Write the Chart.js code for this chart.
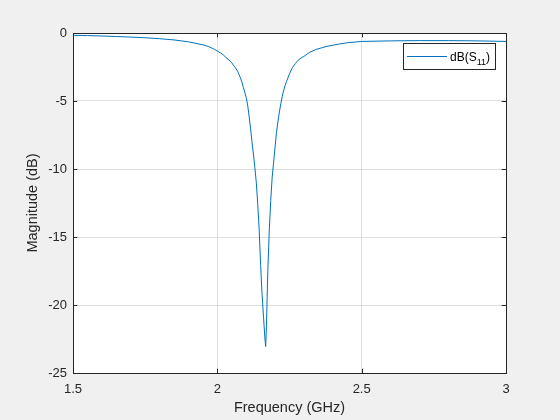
<!DOCTYPE html>
<html>
<head>
<meta charset="utf-8">
<script src="https://cdn.jsdelivr.net/npm/chart.js@4.4.0/dist/chart.umd.min.js"></script>
<style>
  html, body { margin: 0; padding: 0; background: #f0f0f0; }
  canvas { display: block; }
</style>
</head>
<body>
<canvas id="s11Chart" width="560" height="420"></canvas>
<script>
// values
const freqGHz = [1.50, 1.55, 1.60, 1.65, 1.70, 1.75, 1.80, 1.85, 1.90, 1.95,
                 1.97, 1.99, 2.00, 2.01, 2.02, 2.03, 2.04, 2.05, 2.06, 2.07,
                 2.08, 2.085, 2.09, 2.095, 2.10, 2.105, 2.11, 2.115, 2.12, 2.125,
                 2.13, 2.135, 2.14, 2.145, 2.15, 2.155, 2.16, 2.165, 2.1675, 2.17,
                 2.175, 2.18, 2.185, 2.19, 2.195, 2.20, 2.205, 2.21, 2.215, 2.22,
                 2.225, 2.23, 2.235, 2.24, 2.25, 2.26, 2.27, 2.28, 2.29, 2.30,
                 2.32, 2.34, 2.36, 2.38, 2.40, 2.42, 2.45, 2.47, 2.50, 2.60,
                 2.70, 2.80, 2.90, 3.00];
const magDb = [-0.17, -0.19, -0.22, -0.26, -0.30, -0.35, -0.42, -0.51, -0.65, -0.87,
               -1.00, -1.20, -1.33, -1.45, -1.60, -1.80, -1.98, -2.20, -2.48, -2.80,
               -3.30, -3.60, -4.00, -4.35, -4.75, -5.30, -6.10, -7.00, -8.00, -8.90,
               -9.90, -11.0, -12.6, -14.5, -17.1, -19.2, -20.9, -22.5, -23.05, -21.6,
               -17.4, -14.5, -12.3, -10.6, -9.50, -8.40, -7.30, -6.50, -5.80, -5.20,
               -4.65, -4.20, -3.85, -3.55, -3.00, -2.55, -2.25, -2.00, -1.84, -1.72,
               -1.42, -1.22, -1.10, -0.98, -0.90, -0.82, -0.72, -0.68, -0.62, -0.58,
               -0.56, -0.56, -0.58, -0.62];
const xTicks = [1.5, 2, 2.5, 3];
const yTicks = [-25, -20, -15, -10, -5, 0];
const seriesLabel = 'dB(S';
const seriesSub = '11';

const axisColor = '#262626';
const lineColor = '#0072BD';
const fontFamily = '"Liberation Sans", Arial, Helvetica, sans-serif';

// box, inward ticks and the legend drawn on top of the plot area
const matlabAxes = {
    id: 'matlabAxes',
    afterDraw(chart) {
        const { ctx, chartArea: a, scales } = chart;
        const len = 4.3;
        ctx.save();
        ctx.strokeStyle = axisColor;
        ctx.lineWidth = 1;
        ctx.beginPath();
        xTicks.forEach(t => {
            const px = Math.round(scales.x.getPixelForValue(t)) + 0.5;
            ctx.moveTo(px, a.bottom); ctx.lineTo(px, a.bottom - len);
            ctx.moveTo(px, a.top); ctx.lineTo(px, a.top + len);
        });
        yTicks.forEach(t => {
            const py = Math.round(scales.y.getPixelForValue(t)) + 0.5;
            ctx.moveTo(a.left, py); ctx.lineTo(a.left + len, py);
            ctx.moveTo(a.right, py); ctx.lineTo(a.right - len, py);
        });
        ctx.stroke();
        ctx.strokeRect(Math.round(a.left) + 0.5, Math.round(a.top) + 0.5,
                       Math.round(a.right - a.left), Math.round(a.bottom - a.top));

        // legend
        const bx = 403.5, by = 43.5, bw = 92, bh = 26;
        ctx.fillStyle = '#ffffff';
        ctx.fillRect(bx, by, bw, bh);
        ctx.strokeStyle = axisColor;
        ctx.strokeRect(bx, by, bw, bh);
        ctx.strokeStyle = lineColor;
        ctx.beginPath();
        ctx.moveTo(407, 56.5); ctx.lineTo(447, 56.5);
        ctx.stroke();
        ctx.fillStyle = '#000000';
        ctx.textBaseline = 'alphabetic';
        ctx.font = '12px ' + fontFamily;
        let tx = 450;
        ctx.fillText(seriesLabel, tx, 61);
        tx += ctx.measureText(seriesLabel).width;
        ctx.font = '9px ' + fontFamily;
        ctx.fillText(seriesSub, tx, 65);
        tx += ctx.measureText(seriesSub).width;
        ctx.font = '12px ' + fontFamily;
        ctx.fillText(')', tx, 61);
        ctx.restore();
    }
};

const plotBg = {
    id: 'plotBg',
    beforeDraw(chart) {
        const { ctx, chartArea: a } = chart;
        ctx.save();
        ctx.fillStyle = '#f0f0f0';
        ctx.fillRect(0, 0, chart.width, chart.height);
        ctx.fillStyle = '#ffffff';
        ctx.fillRect(a.left, a.top, a.right - a.left, a.bottom - a.top);
        ctx.restore();
    }
};

const ctx = document.getElementById('s11Chart').getContext('2d');
new Chart(ctx, {
    type: 'line',
    data: {
        datasets: [{
            label: 'dB(S11)',
            data: freqGHz.map((f, i) => ({ x: f, y: magDb[i] })),
            borderColor: lineColor,
            borderWidth: 1,
            fill: false,
            pointRadius: 0,
            tension: 0
        }]
    },
    options: {
        responsive: false,
        animation: false,
        layout: { padding: { top: 33, right: 54, bottom: 0, left: 0 } },
        plugins: {
            legend: { display: false },
            tooltip: { enabled: false }
        },
        scales: {
            x: {
                type: 'linear',
                min: 1.5,
                max: 3,
                afterBuildTicks: s => { s.ticks = xTicks.map(v => ({ value: v })); },
                afterFit: s => { s.height = 47; },
                grid: { color: '#dfdfdf', drawTicks: false },
                border: { display: false },
                ticks: {
                    color: axisColor,
                    padding: 9,
                    font: { family: fontFamily, size: 13 },
                    callback: v => String(v)
                },
                title: {
                    display: true,
                    text: 'Frequency (GHz)',
                    color: axisColor,
                    font: { family: fontFamily, size: 14.5 },
                    padding: { top: 0, bottom: 3.5 }
                }
            },
            y: {
                min: -25,
                max: 0,
                afterBuildTicks: s => { s.ticks = yTicks.map(v => ({ value: v })); },
                afterFit: s => { s.width = 73; },
                grid: { color: '#dfdfdf', drawTicks: false },
                border: { display: false },
                ticks: {
                    color: axisColor,
                    padding: 6,
                    font: { family: fontFamily, size: 13 },
                    callback: v => String(v)
                },
                title: {
                    display: true,
                    text: 'Magnitude (dB)',
                    color: axisColor,
                    font: { family: fontFamily, size: 14.5 },
                    padding: { top: 24.5, bottom: 0 }
                }
            }
        }
    },
    plugins: [plotBg, matlabAxes]
});
</script>
</body>
</html>
